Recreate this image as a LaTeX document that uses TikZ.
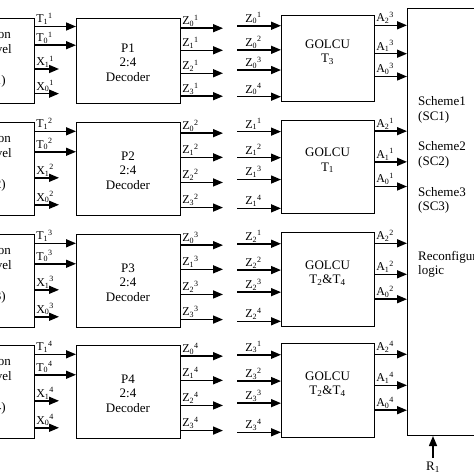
\documentclass[tikz,border=0pt]{standalone}
\usepackage{fontspec}
\setmainfont{Liberation Serif}
\usetikzlibrary{arrows.meta}
\tikzset{
  blk/.style={draw, line width=1pt, inner sep=0pt, anchor=north west},
  sig/.style={line width=1.5pt, -{Triangle[length=10pt,width=8pt]}},
  lbl/.style={font=\fontsize{12}{13}\selectfont, inner sep=0.5pt, anchor=south west, yshift=0.5pt},
  txt/.style={font=\fontsize{13}{14.5}\selectfont, align=center, inner sep=0pt},
}
\newcommand{\pinlab}[3]{#1\textsubscript{#2}\textsuperscript{#3}}

\begin{document}
\begin{tikzpicture}[x=1pt, y=-1pt]
    \useasboundingbox (0,0) rectangle (474,474);
    \clip (0,0) rectangle (474,474);
    % Reconfiguration block
    \node[blk, minimum width=120, minimum height=427] (R) at (407,8) {};
    \node[txt, anchor=west, align=left] (sc1) at (418,110) {Scheme1\\(SC1)};
    \node[txt, anchor=west, align=left] (sc2) at (418,155) {Scheme2\\(SC2)};
    \node[txt, anchor=west, align=left] (sc3) at (418,200.5) {Scheme3\\(SC3)};
    \node[txt, anchor=west, align=left] (rl) at (418,264.5) {Reconfiguration\\logic};
    \coordinate (r1) at (433,458);
    \draw[sig] (r1) node[txt, anchor=north, yshift=-3pt] (r1l) {R\textsubscript{1}} -- (R.south -| r1);
    % Rows: decoder top/bottom, GOLCU top/bottom, GOLCU name, A index
    \foreach \i/\t/\b/\gt/\gb/\g/\a in {
        1/18/103/15/101/T\textsubscript{3}/3,
        2/122/215/120/213/T\textsubscript{1}/1,
        3/234/327/232/326/T\textsubscript{2}\&T\textsubscript{4}/2,
        4/345/438/343/437/T\textsubscript{2}\&T\textsubscript{4}/4} {
      \pgfmathsetmacro\h{\b-\t}
      \pgfmathsetmacro\gh{\gb-\gt}
      \pgfmathtruncatemacro\z{\i-1}
      % level block (cut off at the left)
      \node[blk, minimum width=100, minimum height=\h] (L\i) at (-66,\t) {};
      \node[txt, anchor=east] (L\i a) at (11,\t+16) {Decision};
      \node[txt, anchor=east] (L\i b) at (12,\t+31) {Level};
      \node[txt, anchor=east] (L\i c) at (6,\t+63) {(DL\i)};
      % decoder
      \node[blk, minimum width=104, minimum height=\h] (D\i) at (76,\t) {};
      \node[txt] (D\i t) at (128,{(\t+\b)/2+2}) {P\i\\2:4\\Decoder};
      \pgfmathsetmacro\ya{\t+0.1*\h}
      \pgfmathsetmacro\yb{\t+0.32*\h}
      \pgfmathsetmacro\yc{\t+0.6*\h}
      \pgfmathsetmacro\yd{\t+0.89*\h}
      \draw[sig] (L\i.east |- 0,\ya) node[lbl] {\pinlab{T}{1}{\i}} -- (D\i.west |- 0,\ya);
      \draw[sig] (L\i.east |- 0,\yb) node[lbl] {\pinlab{T}{0}{\i}} -- (D\i.west |- 0,\yb);
      \draw[sig] (L\i.east |- 0,\yc) node[lbl] {\pinlab{X}{1}{\i}} -- ++(24,0);
      \draw[sig] (L\i.east |- 0,\yd) node[lbl] {\pinlab{X}{0}{\i}} -- ++(24,0);
      \foreach \k/\f in {0/0.12, 1/0.38, 2/0.65, 3/0.92} {
        \pgfmathsetmacro\yy{\t+\f*\h}
        \draw[sig] (D\i.east |- 0,\yy) node[lbl] {\pinlab{Z}{\k}{\i}} -- ++(42,0);
      }
      % GOLCU
      \node[blk, minimum width=93, minimum height=\gh] (G\i) at (281,\gt) {};
      \node[txt] (G\i t) at (327.5,{(\gt+\gb)/2-6}) {GOLCU\\\g};
      \foreach \k/\f in {1/0.125, 2/0.405, 3/0.64, 4/0.95} {
        \pgfmathsetmacro\yy{\gt+\f*\gh}
        \coordinate (g\i\k) at (237,\yy);
        \draw[sig] (g\i\k) node[lbl, xshift=7pt] {\pinlab{Z}{\z}{\k}} -- (G\i.west |- g\i\k);
      }
      \foreach \k/\f in {2/0.12, 1/0.45, 0/0.715} {
        \pgfmathsetmacro\yy{\gt+\f*\gh}
        \draw[sig] (G\i.east |- 0,\yy) node[lbl] {\pinlab{A}{\k}{\a}} -- (R.west |- 0,\yy);
      }
    }
\end{tikzpicture}
\end{document}
